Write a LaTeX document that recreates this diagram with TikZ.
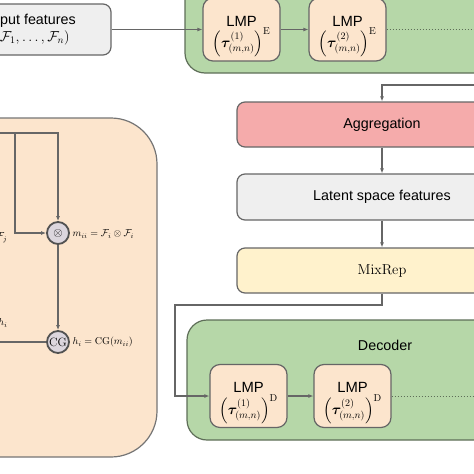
\documentclass[tikz,border=0pt]{standalone}
\usepackage{amsmath,bm}
\usepackage[no-math]{fontspec}
\newfontfamily\arialfont{Liberation Sans}
\usetikzlibrary{arrows.meta}
\definecolor{encgreen}{HTML}{B6D7A8}
\definecolor{greenline}{HTML}{5E6E58}
\definecolor{peach}{HTML}{FCE5CD}
\definecolor{aggred}{HTML}{F5ABAB}
\definecolor{lightgray}{HTML}{EFEFEF}
\definecolor{mixyellow}{HTML}{FFF2CC}
\definecolor{edge}{HTML}{666666}
\definecolor{circfill}{HTML}{DCD6DE}
\newcommand{\lmpformula}[2]{$\left(\bm{\tau}^{(#1)}_{(m,n)}\right)^{\mathrm{#2}}$}
\begin{document}
\begin{tikzpicture}[x=1pt,y=-1pt,
  line width=1.1pt,
  sanstext/.style={font=\arialfont\fontsize{14.3}{17}\selectfont},
  blockbox/.style={draw=edge, rounded corners=8pt, line width=1.2pt, minimum width=290pt, inner sep=0pt},
  lmpbox/.style={draw=edge, fill=peach, rounded corners=10pt, line width=1.2pt, minimum width=77pt, minimum height=63pt, inner sep=0pt},
  lmptitle/.style={font=\arialfont\fontsize{14.8}{17}\selectfont, inner sep=0pt},
  lmpmath/.style={font=\fontsize{14.3}{17}\selectfont, inner sep=0pt},
  groupbox/.style={draw=greenline, fill=encgreen, rounded corners=20pt, line width=1.2pt},
  opcirc/.style={circle, draw=edge!80!black, fill=circfill, line width=1.8pt, minimum size=22pt, inner sep=0pt, font=\fontsize{12}{14}\selectfont},
  conn/.style={draw=edge, line width=1.1pt},
  arr/.style={conn, -{Latex[length=5pt,width=4pt]}},
  dotline/.style={draw=greenline, line width=1pt, dotted},
  mathlabel/.style={font=\fontsize{10}{12}\selectfont, inner sep=0pt}
]
\useasboundingbox (0,0) rectangle (474,474);
\clip (0,0) rectangle (474,474);

% left peach panel
\draw[draw=edge!90, fill=peach, line width=1.2pt, rounded corners=46pt] (-80,118) rectangle (157,457);

% input features box
\node[draw=edge, fill=lightgray, rounded corners=8pt, line width=1.2pt, minimum width=158pt, minimum height=51pt, inner sep=0pt, align=center, sanstext] (input) at (32,29.5)
  {Input features\\[0pt] $(\mathcal{F}_1,\ldots,\mathcal{F}_n)$};

% encoder group
\draw[groupbox] (185,-40) rectangle (540,73);
\node[lmpbox] (lmp1e) at (241.5,29.5) {};
\node[lmpbox] (lmp2e) at (347.5,29.5) {};
\node[lmptitle] (t1e) at (241.5,21) {LMP};
\node[lmpmath] (f1e) at (241.5,42) {\lmpformula{1}{E}};
\node[lmptitle] (t2e) at (347.5,21) {LMP};
\node[lmpmath] (f2e) at (347.5,42) {\lmpformula{2}{E}};
\coordinate (encend) at (480,29.5);
\draw[arr] (input.east) -- (lmp1e.west);
\draw[arr] (lmp1e.east) -- (lmp2e.west);
\draw[dotline] (lmp2e.east) -- (encend);

% central column
\node[blockbox, fill=aggred, minimum height=45pt, sanstext] (agg) at (382,124.5) {Aggregation};
\node[blockbox, fill=lightgray, minimum height=46pt, sanstext] (latent) at (382,197) {Latent space features};
\node[blockbox, fill=mixyellow, minimum height=45pt, font=\fontsize{13.5}{16}\selectfont] (mixrep) at (382,270.5) {$\mathrm{MixRep}$};
\coordinate (fbstart) at (490,85);
\draw[arr] (fbstart) -- (382,85) -- (agg.north);
\draw[arr] (agg.south) -- (latent.north);
\draw[arr] (latent.south) -- (mixrep.north);

% decoder group
\draw[groupbox] (187,320) rectangle (540,440);
\node[sanstext, inner sep=0pt] (declabel) at (385,345) {Decoder};
\node[lmpbox] (lmp1d) at (248.5,396) {};
\node[lmpbox] (lmp2d) at (352.5,396) {};
\node[lmptitle] (t1d) at (248.5,387.5) {LMP};
\node[lmpmath] (f1d) at (248.5,409) {\lmpformula{1}{D}};
\node[lmptitle] (t2d) at (352.5,387.5) {LMP};
\node[lmpmath] (f2d) at (352.5,409) {\lmpformula{2}{D}};
\coordinate (decend) at (480,396);
\draw[arr] (mixrep.south) -- (382,305) -- (175,305) -- (175,396) -- (lmp1d.west);
\draw[arr] (lmp1d.east) -- (lmp2d.west);
\draw[dotline] (lmp2d.east) -- (decend);

% left panel internals
\node[opcirc] (otimes) at (58,233) {$\otimes$};
\node[opcirc] (cg) at (58,342) {$\mathrm{CG}$};
\coordinate (topin) at (-20,133);
\coordinate (branch) at (15,133);
\coordinate (cgin) at (-20,342);
\draw[arr] (topin) -- (58,133) -- (otimes.north);
\draw[arr] (branch) -- (15,233) -- (otimes.west);
\draw[arr] (otimes.south) -- (cg.north);
\draw[conn] (cgin) -- (cg.west);
\node[mathlabel, anchor=west] (mlabel) at (72,234) {$m_{ii} = \mathcal{F}_i \otimes \mathcal{F}_i$};
\node[mathlabel, anchor=west] (hlabel) at (72,342) {$h_i = \mathrm{CG}(m_{ii})$};
\node[mathlabel, anchor=east] (fjlabel) at (8,238) {$\mathcal{F}_j$};
\node[mathlabel, anchor=east] (hilabel) at (8,323) {$h_i$};
\end{tikzpicture}
\end{document}
